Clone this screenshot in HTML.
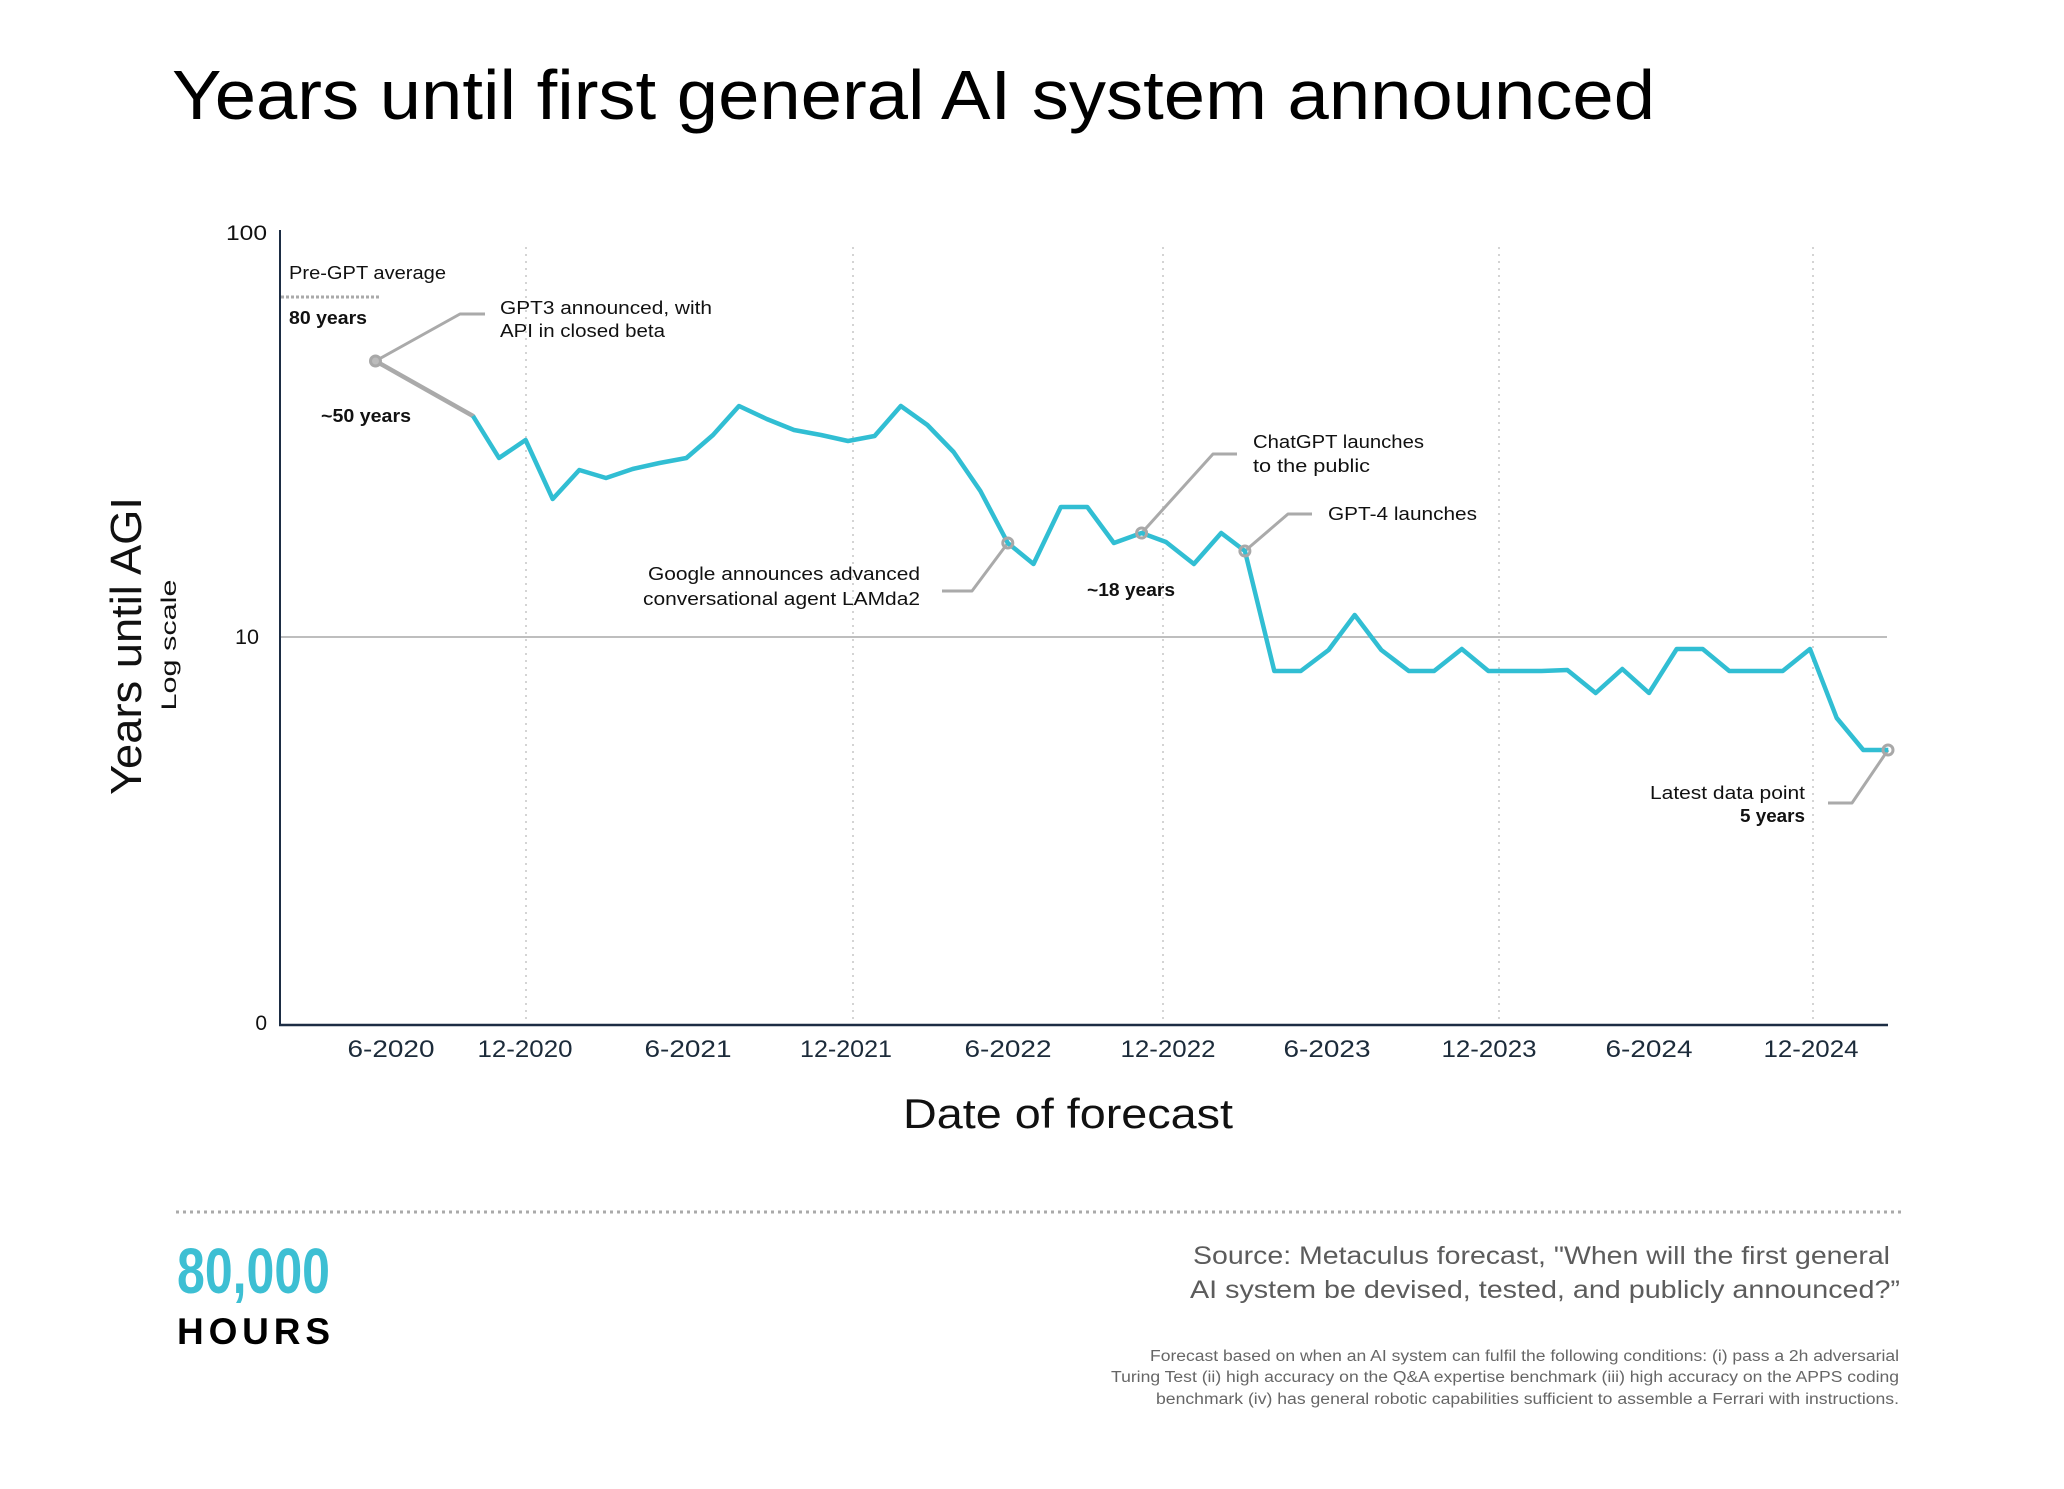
<!DOCTYPE html>
<html>
<head>
<meta charset="utf-8">
<style>
html,body{margin:0;padding:0;background:#fff;}
svg{display:block;}
text{font-family:"Liberation Sans",sans-serif;}
</style>
</head>
<body>
<svg width="2064" height="1489" viewBox="0 0 2064 1489" xmlns="http://www.w3.org/2000/svg">
<rect width="2064" height="1489" fill="#fff"/>

<!-- Title -->
<text x="172" y="119" font-size="70" fill="#000" textLength="1483" lengthAdjust="spacingAndGlyphs">Years until first general AI system announced</text>

<!-- vertical dotted gridlines -->
<g stroke="#d4d4d4" stroke-width="2" stroke-dasharray="2 5">
<line x1="526" y1="247" x2="526" y2="1024"/>
<line x1="853" y1="247" x2="853" y2="1024"/>
<line x1="1163" y1="247" x2="1163" y2="1024"/>
<line x1="1499" y1="247" x2="1499" y2="1024"/>
<line x1="1813" y1="247" x2="1813" y2="1024"/>
</g>

<!-- 10 gridline -->
<line x1="280" y1="637" x2="1887" y2="637" stroke="#a9a9a9" stroke-width="1.6"/>

<!-- axes -->
<line x1="280" y1="230" x2="280" y2="1025" stroke="#1d2d44" stroke-width="2"/>
<line x1="279" y1="1025" x2="1888" y2="1025" stroke="#1d2d44" stroke-width="2.5"/>

<!-- y tick labels -->
<text x="267" y="240" font-size="21" fill="#111" text-anchor="end" textLength="41" lengthAdjust="spacingAndGlyphs">100</text>
<text x="259" y="644" font-size="21" fill="#111" text-anchor="end" textLength="24" lengthAdjust="spacingAndGlyphs">10</text>
<text x="267" y="1030" font-size="21" fill="#111" text-anchor="end">0</text>

<!-- y axis titles -->
<text transform="translate(141,646) rotate(-90)" font-size="44" fill="#111" text-anchor="middle" textLength="298" lengthAdjust="spacingAndGlyphs">Years until AGI</text>
<text transform="translate(176,645) rotate(-90)" font-size="21" fill="#111" text-anchor="middle" textLength="131" lengthAdjust="spacingAndGlyphs">Log scale</text>

<!-- x tick labels -->
<g font-size="24" fill="#1c2b3a" text-anchor="middle">
<text x="391" y="1057" textLength="87" lengthAdjust="spacingAndGlyphs">6-2020</text>
<text x="525" y="1057" textLength="95" lengthAdjust="spacingAndGlyphs">12-2020</text>
<text x="688" y="1057" textLength="87" lengthAdjust="spacingAndGlyphs">6-2021</text>
<text x="846" y="1057" textLength="92" lengthAdjust="spacingAndGlyphs">12-2021</text>
<text x="1008" y="1057" textLength="87" lengthAdjust="spacingAndGlyphs">6-2022</text>
<text x="1168" y="1057" textLength="95" lengthAdjust="spacingAndGlyphs">12-2022</text>
<text x="1327" y="1057" textLength="87" lengthAdjust="spacingAndGlyphs">6-2023</text>
<text x="1489" y="1057" textLength="95" lengthAdjust="spacingAndGlyphs">12-2023</text>
<text x="1649" y="1057" textLength="87" lengthAdjust="spacingAndGlyphs">6-2024</text>
<text x="1811" y="1057" textLength="95" lengthAdjust="spacingAndGlyphs">12-2024</text>
</g>

<!-- x axis title -->
<text x="903" y="1128" font-size="42" fill="#111" textLength="330" lengthAdjust="spacingAndGlyphs">Date of forecast</text>

<!-- Pre-GPT average -->
<text x="289" y="279" font-size="18.5" fill="#111" textLength="157" lengthAdjust="spacingAndGlyphs">Pre-GPT average</text>
<line x1="281" y1="297" x2="381" y2="297" stroke="#aaa" stroke-width="3" stroke-dasharray="3 2"/>
<text x="289" y="324" font-size="18.5" font-weight="bold" fill="#111" textLength="78" lengthAdjust="spacingAndGlyphs">80 years</text>

<!-- leader lines -->
<g fill="none" stroke="#aaa" stroke-width="3" stroke-linejoin="round">
<polyline points="375.5,361 460,314 485,314"/>
<polyline points="1007.8,543 972,591 942,591"/>
<polyline points="1141.6,533 1213,454 1237,454"/>
<polyline points="1244.9,551 1288,514 1312,514"/>
<polyline points="1888,750 1852,803 1828,803"/>
</g>

<!-- gray early segment -->
<line x1="375.5" y1="361" x2="473" y2="416" stroke="#aaa" stroke-width="4.5" stroke-linecap="round"/>

<!-- data line -->
<polyline fill="none" stroke="#31bed3" stroke-width="4.5" stroke-linejoin="round" points="
473,416 499,458 525.6,440 552.7,499 579.3,470 606,478 632.6,469 659.5,463 686.4,458 713,435 739,406
766.7,419 794,430 821,435 848,441 874.6,436 900.8,406 927.4,425 953.6,452 980.4,491 1007.8,543
1033.5,564 1060.8,507 1087.3,507 1113.9,543 1141.6,533 1166,542 1193.9,564 1221.2,533 1244.9,551
1274.3,671 1300.8,671 1328.6,650 1354.7,615 1381.3,650 1408.8,671 1434.1,671 1461.8,649 1488.4,671
1515,671 1541.5,671 1567.3,670 1595.7,693 1622.3,669 1649,693 1676.7,649 1702.7,649 1729.3,671
1756,671 1782.7,671 1810,649 1836.7,718 1863.3,750 1888.3,750"/>

<!-- marker circles -->
<g fill="none" stroke="#a8a8a8" stroke-width="3">
<circle cx="375.5" cy="361" r="5" fill="#bbb"/>
<circle cx="1007.8" cy="543" r="5"/>
<circle cx="1141.6" cy="533" r="5"/>
<circle cx="1244.9" cy="551" r="5"/>
<circle cx="1888" cy="750" r="5"/>
</g>

<!-- annotations -->
<g font-size="18.5" fill="#111">
<text x="500" y="314" textLength="212" lengthAdjust="spacingAndGlyphs">GPT3 announced, with</text>
<text x="500" y="337" textLength="165" lengthAdjust="spacingAndGlyphs">API in closed beta</text>
<text x="321" y="422" font-weight="bold" textLength="90" lengthAdjust="spacingAndGlyphs">~50 years</text>
<text x="920" y="580" text-anchor="end" textLength="272" lengthAdjust="spacingAndGlyphs">Google announces advanced</text>
<text x="920" y="605" text-anchor="end" textLength="277" lengthAdjust="spacingAndGlyphs">conversational agent LAMda2</text>
<text x="1253" y="448" textLength="171" lengthAdjust="spacingAndGlyphs">ChatGPT launches</text>
<text x="1253" y="472" textLength="117" lengthAdjust="spacingAndGlyphs">to the public</text>
<text x="1328" y="520" textLength="149" lengthAdjust="spacingAndGlyphs">GPT-4 launches</text>
<text x="1087" y="596" font-weight="bold" textLength="88" lengthAdjust="spacingAndGlyphs">~18 years</text>
<text x="1805" y="799" text-anchor="end" textLength="155" lengthAdjust="spacingAndGlyphs">Latest data point</text>
<text x="1805" y="822" text-anchor="end" font-weight="bold" textLength="65" lengthAdjust="spacingAndGlyphs">5 years</text>
</g>

<!-- footer separator -->
<line x1="176" y1="1212" x2="1901" y2="1212" stroke="#aaa" stroke-width="3" stroke-dasharray="3 4"/>

<!-- logo -->
<text x="177" y="1293" font-size="64" font-weight="bold" fill="#3dbfd3" textLength="153" lengthAdjust="spacingAndGlyphs">80,000</text>
<text x="177" y="1344" font-size="37" font-weight="bold" fill="#000" textLength="153" lengthAdjust="spacing">HOURS</text>

<!-- source -->
<g fill="#5c5c5c" font-size="25">
<text x="1193" y="1264" textLength="697" lengthAdjust="spacingAndGlyphs">Source: Metaculus forecast, "When will the first general</text>
<text x="1190" y="1298" textLength="710" lengthAdjust="spacingAndGlyphs">AI system be devised, tested, and publicly announced?”</text>
</g>
<g fill="#666" font-size="15.5">
<text x="1150" y="1361" textLength="749" lengthAdjust="spacingAndGlyphs">Forecast based on when an AI system can fulfil the following conditions: (i) pass a 2h adversarial</text>
<text x="1111" y="1382" textLength="788" lengthAdjust="spacingAndGlyphs">Turing Test (ii) high accuracy on the Q&amp;A expertise benchmark (iii) high accuracy on the APPS coding</text>
<text x="1156" y="1404" textLength="743" lengthAdjust="spacingAndGlyphs">benchmark (iv) has general robotic capabilities sufficient to assemble a Ferrari with instructions.</text>
</g>
</svg>
</body>
</html>
